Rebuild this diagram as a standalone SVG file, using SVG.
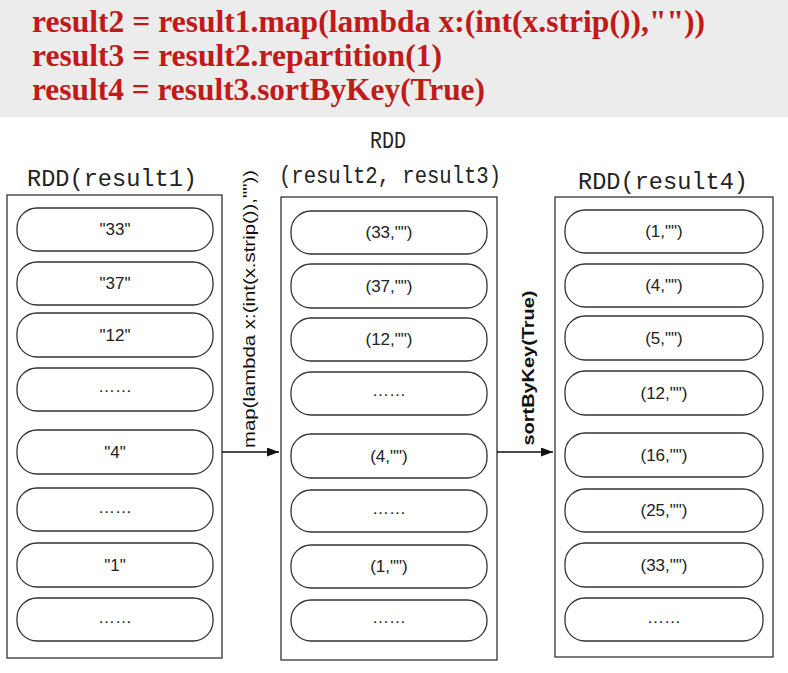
<svg xmlns="http://www.w3.org/2000/svg" width="788" height="673" viewBox="0 0 788 673">
<style>
.code{font-family:"Liberation Serif",serif;font-weight:bold;font-size:31px;fill:#c01a1a}
.title{font-family:"Liberation Mono",monospace;font-size:24px;fill:#222}
.box{fill:#fff;stroke:#333;stroke-width:1.3}
.pill{fill:#fff;stroke:#333;stroke-width:1.3}
.t{font-family:"Liberation Sans",Arial,sans-serif;font-size:17px;fill:#222;text-anchor:middle}
.lab{font-family:"Liberation Sans",Arial,sans-serif;font-size:17px;fill:#111;text-anchor:middle}
.c{stroke:#111;stroke-width:1.3;fill:none}
</style>
<defs><marker id="ah" markerWidth="12" markerHeight="9" refX="12" refY="4.5" orient="auto" markerUnits="userSpaceOnUse"><path d="M0,0L12,4.5L0,9z" fill="#111"/></marker></defs>
<rect x="0" y="0" width="788" height="117" fill="#ececec"/>
<rect x="0" y="117" width="788" height="556" fill="#fff"/>
<text class="code" x="32" y="32" textLength="673" lengthAdjust="spacingAndGlyphs">result2 = result1.map(lambda x:(int(x.strip()),""))</text>
<text class="code" x="32" y="66" textLength="410" lengthAdjust="spacingAndGlyphs">result3 = result2.repartition(1)</text>
<text class="code" x="32" y="100" textLength="453" lengthAdjust="spacingAndGlyphs">result4 = result3.sortByKey(True)</text>
<text class="title" x="112" y="186" text-anchor="middle" textLength="170" lengthAdjust="spacingAndGlyphs">RDD(result1)</text>
<text class="title" x="388" y="148" text-anchor="middle" textLength="36" lengthAdjust="spacingAndGlyphs">RDD</text>
<text class="title" x="390" y="183" text-anchor="middle" textLength="222" lengthAdjust="spacingAndGlyphs">(result2, result3)</text>
<text class="title" x="663" y="189" text-anchor="middle" textLength="170" lengthAdjust="spacingAndGlyphs">RDD(result4)</text>
<g id="rdd1">
<rect class="box" x="7" y="195" width="215" height="463"/>
<rect class="pill" x="17" y="208" width="196" height="43" rx="20"/><text class="t" x="115" y="235">"33"</text>
<rect class="pill" x="17" y="262" width="196" height="43" rx="20"/><text class="t" x="115" y="289">"37"</text>
<rect class="pill" x="17" y="313" width="196" height="44" rx="20"/><text class="t" x="115" y="341">"12"</text>
<rect class="pill" x="17" y="368" width="196" height="43" rx="20"/><text class="t" x="115" y="392">……</text>
<rect class="pill" x="17" y="430" width="196" height="44" rx="20"/><text class="t" x="115" y="458">"4"</text>
<rect class="pill" x="17" y="488" width="196" height="43" rx="20"/><text class="t" x="115" y="513">……</text>
<rect class="pill" x="17" y="543" width="196" height="44" rx="20"/><text class="t" x="115" y="571">"1"</text>
<rect class="pill" x="17" y="598" width="196" height="43" rx="20"/><text class="t" x="115" y="623">……</text>
</g>
<g id="rdd23">
<rect class="box" x="281" y="197" width="216" height="463"/>
<rect class="pill" x="291" y="211" width="196" height="43" rx="20"/><text class="t" x="389" y="238">(33,"")</text>
<rect class="pill" x="291" y="264" width="196" height="44" rx="20"/><text class="t" x="389" y="292">(37,"")</text>
<rect class="pill" x="291" y="318" width="196" height="43" rx="20"/><text class="t" x="389" y="345">(12,"")</text>
<rect class="pill" x="291" y="372" width="196" height="43" rx="20"/><text class="t" x="389" y="396">……</text>
<rect class="pill" x="291" y="434" width="196" height="44" rx="20"/><text class="t" x="389" y="462">(4,"")</text>
<rect class="pill" x="291" y="490" width="196" height="42" rx="20"/><text class="t" x="389" y="514">……</text>
<rect class="pill" x="291" y="545" width="196" height="43" rx="20"/><text class="t" x="389" y="572">(1,"")</text>
<rect class="pill" x="291" y="600" width="196" height="41" rx="20"/><text class="t" x="389" y="623">……</text>
</g>
<g id="rdd4">
<rect class="box" x="555" y="197" width="218" height="460"/>
<rect class="pill" x="565" y="210" width="198" height="43" rx="20"/><text class="t" x="664" y="237">(1,"")</text>
<rect class="pill" x="565" y="264" width="198" height="43" rx="20"/><text class="t" x="664" y="291">(4,"")</text>
<rect class="pill" x="565" y="316" width="198" height="44" rx="20"/><text class="t" x="664" y="344">(5,"")</text>
<rect class="pill" x="565" y="371" width="198" height="44" rx="20"/><text class="t" x="664" y="399">(12,"")</text>
<rect class="pill" x="565" y="433" width="198" height="44" rx="20"/><text class="t" x="664" y="461">(16,"")</text>
<rect class="pill" x="565" y="489" width="198" height="43" rx="20"/><text class="t" x="664" y="516">(25,"")</text>
<rect class="pill" x="565" y="543" width="198" height="44" rx="20"/><text class="t" x="664" y="571">(33,"")</text>
<rect class="pill" x="565" y="598" width="198" height="43" rx="20"/><text class="t" x="664" y="623">……</text>
</g>
<g id="connectors">
<path class="c" d="M222,452H279" marker-end="url(#ah)"/>
<path class="c" d="M497,452H553" marker-end="url(#ah)"/>
<text class="lab" transform="translate(255,309) rotate(-90)" textLength="278" lengthAdjust="spacingAndGlyphs">map(lambda x:(int(x.strip()),""))</text>
<text class="lab" transform="translate(534,368) rotate(-90)" font-weight="bold" textLength="155" lengthAdjust="spacingAndGlyphs">sortByKey(True)</text>
</g>
</svg>
